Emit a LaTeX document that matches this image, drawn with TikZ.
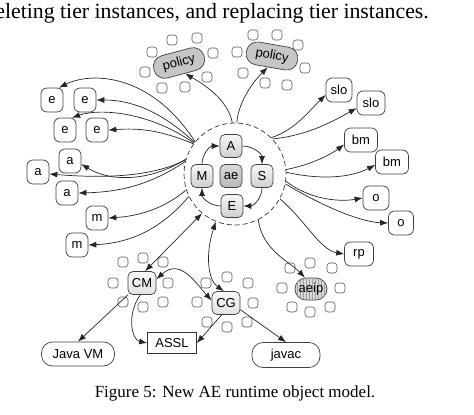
\documentclass[tikz,border=0pt]{standalone}
\usepackage{fontspec}
\setmainfont{Liberation Serif}
\setsansfont{Liberation Sans}
\usetikzlibrary{arrows.meta,patterns}
\begin{document}
\begin{tikzpicture}[x=1pt,y=-1pt,
  lbl/.style={font=\sffamily\fontsize{13}{13}\selectfont},
  tgt/.style={lbl,draw=black!75,fill=white,rounded corners=6pt,minimum width=22pt,minimum height=24pt,inner xsep=4pt,inner ysep=0pt,line width=0.7pt},
  core node/.style={lbl,draw=black!75,rounded corners=5pt,minimum width=22pt,minimum height=23pt,inner sep=0pt,top color=gray!6,bottom color=gray!38,line width=0.7pt},
  pill/.style={lbl,draw=black!75,rounded corners=11pt,minimum height=23pt,inner xsep=6pt,inner ysep=0pt,line width=0.7pt},
  sq/.style={draw=black!65,fill=white,rounded corners=3pt,minimum size=10pt,inner sep=0pt,line width=0.6pt},
  link/.style={draw=black!85,line width=0.7pt,-{Latex[length=8pt,width=6pt]}},
  link2/.style={draw=black!85,line width=0.7pt,{Latex[length=8pt,width=6pt]}-{Latex[length=8pt,width=6pt]}},
  captext/.style={font=\fontsize{17}{17}\selectfont,inner sep=0pt}
]
\useasboundingbox (0,0) rectangle (474,415);

% texts
\node[captext,font=\fontsize{21.8}{22}\selectfont,anchor=base east] (toptext) at (429,18) {eleting tier instances, and replacing tier instances.};
\node[captext,anchor=base] (caption) at (235,397) {Figure 5: New AE runtime object model.};

% core
\node[circle,draw=black!80,dashed,dash pattern=on 5pt off 3pt,minimum size=102pt,line width=0.7pt] (core) at (235,174) {};
\node[core node] (A) at (231,146) {A};
\node[core node] (M) at (202,176) {M};
\node[core node,top color=gray!30,bottom color=gray!55] (ae) at (231,176) {ae};
\node[core node] (S) at (262,176) {S};
\node[core node] (E) at (232,206) {E};
\draw[link] (M.north) to[out=90,in=180] (A.west);
\draw[link] (A.east) to[out=0,in=90] (S.north);
\draw[link] (S.south) to[out=-90,in=0] (E.east);
\draw[link] (E.west) to[out=180,in=-90] (M.south);

% policies
\foreach \p [count=\i] in {{152,52},{172,40},{197,38},{213,53},{145,72},{162,88},{185,87},{207,77}}
  \node[sq] (pa\i) at (\p) {};
\foreach \p [count=\i] in {{237,52},{253,35},{277,35},{298,45},{243,73},{265,83},{287,85},{305,68}}
  \node[sq] (pb\i) at (\p) {};
\node[pill,fill=gray!45,rotate=15,minimum width=52pt] (pol1) at (179,63) {policy};
\node[pill,fill=gray!45,rotate=-10,minimum width=52pt] (pol2) at (272,56) {policy};
\draw[link] (core.93) .. controls (228,100) and (205,85) .. (pol1.-75);
\draw[link] (core.88) .. controls (238,105) and (250,85) .. (pol2.-101);

% left targets
\node[tgt] (e1) at (52,100) {e};
\node[tgt] (e2) at (85,100) {e};
\node[tgt] (e3) at (65,130) {e};
\node[tgt] (e4) at (97,130) {e};
\node[tgt] (a1) at (70,161) {a};
\node[tgt] (a2) at (38,172) {a};
\node[tgt] (a3) at (67,193) {a};
\node[tgt] (m1) at (97,218) {m};
\node[tgt] (m2) at (77,245) {m};
\draw[link] (core.141) .. controls (150,72) and (90,72) .. (e1.60);
\draw[link] (core.142) .. controls (160,110) and (130,100) .. (e2.east);
\draw[link] (core.143) .. controls (150,112) and (100,108) .. (e3.60);
\draw[link] (core.144) .. controls (160,130) and (140,128) .. (e4.east);
\draw[link] (core.163) .. controls (150,182) and (110,182) .. (a1.-15);
\draw[link] (core.164) .. controls (150,178) and (100,178) .. (a2.-10);
\draw[link] (core.166) .. controls (150,185) and (120,192) .. (a3.east);
\draw[link] (core.198) .. controls (165,208) and (140,216) .. (m1.east);
\draw[link] (core.206) .. controls (160,230) and (130,243) .. (m2.east);

% right targets
\node[tgt,minimum width=26pt] (slo1) at (339,90) {slo};
\node[tgt,minimum width=28pt] (slo2) at (371,103) {slo};
\node[tgt,minimum width=33pt] (bm1) at (361,140) {bm};
\node[tgt,minimum width=33pt] (bm2) at (392,162) {bm};
\node[tgt,minimum width=26pt] (o1) at (376,198) {o};
\node[tgt,minimum width=25pt] (o2) at (401,223) {o};
\node[tgt,minimum width=29pt] (rp) at (359,254) {rp};
\draw[link] (core.45) .. controls (295,130) and (310,110) .. (slo1.200);
\draw[link] (core.43) .. controls (310,135) and (335,120) .. (slo2.200);
\draw[link] (core.5) .. controls (310,165) and (330,155) .. (bm1.195);
\draw[link] (core.2) .. controls (320,180) and (350,178) .. (bm2.190);
\draw[link] (core.-8) .. controls (310,200) and (340,202) .. (o1.west);
\draw[link] (core.-11) .. controls (320,205) and (360,222) .. (o2.west);
\draw[link] (core.-29) .. controls (305,220) and (320,250) .. (rp.west);

% aeip
\foreach \p [count=\i] in {{290,268},{310,263},{332,268},{282,288},{340,288},{292,307},{310,312},{330,307}}
  \node[sq] (pc\i) at (\p) {};
\node[pill,fill=gray!30,minimum width=32pt,minimum height=22pt,inner xsep=2pt,postaction={pattern=vertical lines,pattern color=gray!75}] (aeip) at (311,289) {};
\node[lbl,inner sep=0pt] (aeiptext) at (aeip.center) {aeip};
\draw[link] (core.-63) .. controls (262,250) and (290,262) .. (aeip.118);

% bottom
\foreach \p [count=\i] in {{123,262},{143,258},{163,262},{113,283},{168,283},{123,302},{143,307},{163,302}}
  \node[sq] (pd\i) at (\p) {};
\foreach \p [count=\i] in {{206,283},{227,277},{248,283},{197,302},{253,303},{207,322},{227,327},{247,322}}
  \node[sq] (pe\i) at (\p) {};
\node[core node,top color=gray!5,bottom color=gray!22,minimum width=28pt] (CM) at (142,283) {CM};
\node[core node,top color=gray!5,bottom color=gray!22,minimum width=28pt] (CG) at (226,303) {CG};
\node[lbl,draw=black!80,fill=white,minimum width=49pt,minimum height=21pt,inner sep=0pt,line width=0.7pt] (ASSL) at (172,343) {ASSL};
\node[pill,fill=white,minimum width=73pt,minimum height=24pt] (jvm) at (78,354) {Java VM};
\node[pill,fill=white,minimum width=68pt,minimum height=25pt] (javac) at (286,355) {javac};
\draw[link2] (core.230) -- (CM.75);
\draw[link2] (core.248) .. controls (205,255) and (208,280) .. (CG.100);
\draw[link2] (CM.15) .. controls (180,258) and (195,282) .. (CG.170);
\draw[link] (CM.220) -- (jvm.north);
\draw[link] (CM.262) .. controls (126,315) and (132,340) .. (ASSL.west);
\draw[link] (CG.250) -- (ASSL.east);
\draw[link] (CG.-25) -- (javac.north);
\end{tikzpicture}
\end{document}
